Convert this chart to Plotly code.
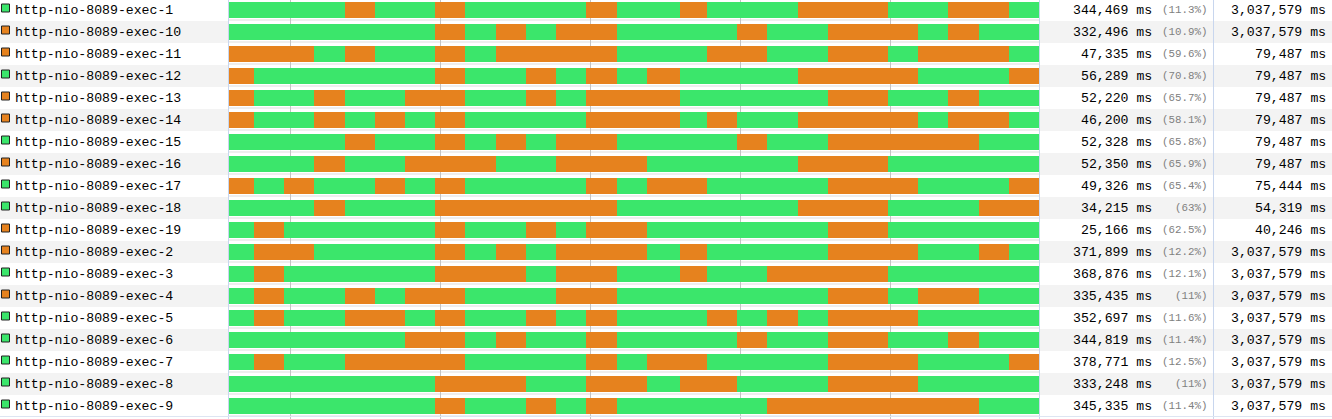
import plotly.graph_objects as go

# ---------------- data ----------------
threads = [
    "http-nio-8089-exec-1", "http-nio-8089-exec-10", "http-nio-8089-exec-11",
    "http-nio-8089-exec-12", "http-nio-8089-exec-13", "http-nio-8089-exec-14",
    "http-nio-8089-exec-15", "http-nio-8089-exec-16", "http-nio-8089-exec-17",
    "http-nio-8089-exec-18", "http-nio-8089-exec-19", "http-nio-8089-exec-2",
    "http-nio-8089-exec-3", "http-nio-8089-exec-4", "http-nio-8089-exec-5",
    "http-nio-8089-exec-6", "http-nio-8089-exec-7", "http-nio-8089-exec-8",
    "http-nio-8089-exec-9",
]
# sample boundaries (s) of the timeline
bounds = [0, 0.83, 1.83, 2.83, 3.87, 4.87, 5.87, 6.87, 7.87, 8.9, 9.9, 10.9,
          11.9, 12.93, 13.93, 15.03, 15.93, 16.93, 17.93, 18.97, 19.97, 20.97,
          21.97, 22.97, 23.97, 25.0, 26.0, 27.0]
# state per sample: G = running, O = waiting
states = [
    "GGGGOGGOGGGGOGGOGGGOOOGGOOG",
    "GGGGGGGOGOGOOGGGGOGGOOOGOGG",
    "OOOGOGGOGOOOOGGGOOGGOOGOOOG",
    "OGGGGGGOGGOGOGOGGGGOOOOGGGO",
    "OGGOGGOOGGOGOOOGGGGGOOGGOGG",
    "OGGOGOGOGGGGOOOGOGGOOOOGOOG",
    "GGGGOGGOGOGOOGGGGOGGOOOOOGG",
    "GGGOGGOOOGGOOOGGGGGOOOGGGGG",
    "OGOGGOGOGGGGOGOOGGGGOOOGGGO",
    "GGGOGGGOOOOOOGGGGGGOOOGGGOO",
    "GOGGGGGOGGOGOOGGGGGGOOGGGGG",
    "GOOGGGGOGOGOOOGOGGGGOOOGGOG",
    "GOGGGGGOOOGOOGGOGGOOOOGGGGG",
    "GOGGOGOOGGGOOGGGGGGGOOGOOGG",
    "GOGGOOGOGGOGOGGGOGOGOOOGGGG",
    "GGGGGGOOGOGGOGGGGOGGOOGGOGG",
    "GOGGOOOOGGGGOGOOGGGGOOOGGGO",
    "GGGGGGGOOOGGOOGOOGGGOOOGGGG",
    "GGGGGGGOGGOGOGGGGGOOOOOOOGG",
]
icon_states = "GOOGOOGOGGOOGOGGGGG"
run_ms = [344469, 332496, 47335, 56289, 52220, 46200, 52328, 52350, 49326,
          34215, 25166, 371899, 368876, 335435, 352697, 344819, 378771,
          333248, 345335]
run_pct = [11.3, 10.9, 59.6, 70.8, 65.7, 58.1, 65.8, 65.9, 65.4, 63, 62.5,
           12.2, 12.1, 11, 11.6, 11.4, 12.5, 11, 11.4]
total_ms = [3037579, 3037579, 79487, 79487, 79487, 79487, 79487, 79487, 75444,
            54319, 40246, 3037579, 3037579, 3037579, 3037579, 3037579,
            3037579, 3037579, 3037579]

# ---------------- style ----------------
W, H = 1332, 419
L, R = 229, 1039          # timeline pixel span
PITCH = 22                # row pitch px
FIRST = 10                # centre of first row px
GREEN = "#3be66b"
ORANGE = "#e6821e"
SEP = "#c8d6ee"
FONT = "Liberation Mono, DejaVu Sans Mono, monospace"
COL = {"G": GREEN, "O": ORANGE}

def px(p):
    return (p - L) / (R - L)

# build segments
segs = {"G": ([], [], []), "O": ([], [], [])}
for r, s in enumerate(states):
    i = 0
    while i < len(s):
        j = i
        while j + 1 < len(s) and s[j + 1] == s[i]:
            j += 1
        ys, bs, ds = segs[s[i]]
        ys.append(r)
        bs.append(bounds[i])
        ds.append(bounds[j + 1] - bounds[i])
        i = j + 1

fig = go.Figure()
for k in ("G", "O"):
    ys, bs, ds = segs[k]
    fig.add_trace(go.Bar(
        y=ys, base=bs, x=ds, orientation="h", width=16 / PITCH,
        marker=dict(color=COL[k], line=dict(width=0)),
        showlegend=False, hoverinfo="skip"))

n = len(threads)
shapes = []
annotations = []
for r in range(n):
    if r % 2 == 1:
        for x0, x1 in ((px(0), px(228)), (px(1040), px(W))):
            shapes.append(dict(type="rect", xref="paper", yref="y",
                               x0=x0, x1=x1, y0=r - 0.5, y1=r + 0.5,
                               fillcolor="#f3f3f3", line=dict(width=0),
                               layer="below"))
    # thin strip under each bar
    shapes.append(dict(type="rect", xref="x", yref="y",
                       x0=bounds[0], x1=bounds[-1],
                       y0=r + 9 / PITCH, y1=r + 11 / PITCH,
                       fillcolor="#eeeeee", line=dict(width=0), layer="below"))
    # icon
    shapes.append(dict(type="rect", xref="paper", yref="y", ysizemode="pixel",
                       yanchor=r, y0=-2, y1=6, x0=px(1.5), x1=px(9.5),
                       fillcolor=COL[icon_states[r]],
                       line=dict(color="#222222", width=1)))
    annotations.append(dict(xref="paper", yref="y", x=px(13), y=r,
                            xanchor="left", yanchor="middle", showarrow=False,
                            text=threads[r],
                            font=dict(family=FONT, size=13.2, color="#000000")))
    annotations.append(dict(xref="paper", yref="y", x=px(1154), y=r,
                            xanchor="right", yanchor="middle", showarrow=False,
                            text=f"{run_ms[r]:,} ms",
                            font=dict(family=FONT, size=13.2, color="#000000")))
    annotations.append(dict(xref="paper", yref="y", x=px(1209), y=r,
                            xanchor="right", yanchor="middle", showarrow=False,
                            text=f"({run_pct[r]:g}%)",
                            font=dict(family=FONT, size=10.8, color="#808080")))
    annotations.append(dict(xref="paper", yref="y", x=px(1328), y=r,
                            xanchor="right", yanchor="middle", showarrow=False,
                            text=f"{total_ms[r]:,} ms",
                            font=dict(family=FONT, size=13.2, color="#000000")))

# separators
for xp in (228.5, 1039.5, 1213.5):
    shapes.append(dict(type="line", xref="paper", yref="paper",
                       x0=px(xp), x1=px(xp), y0=0, y1=1,
                       line=dict(color=SEP, width=1)))
shapes.append(dict(type="line", xref="paper", yref="paper",
                   x0=px(0), x1=px(W), y0=2.5 / H, y1=2.5 / H,
                   line=dict(color="#dde5f2", width=1)))

top = -FIRST / PITCH
bottom = (H - FIRST) / PITCH
fig.update_layout(
    width=W, height=H,
    margin=dict(l=L, r=W - R, t=0, b=0, pad=0),
    paper_bgcolor="white", plot_bgcolor="white",
    barmode="overlay", bargap=0,
    shapes=shapes, annotations=annotations,
    xaxis=dict(range=[bounds[0], bounds[-1]], showticklabels=False,
               showgrid=True, gridcolor="#c4c4c4", gridwidth=1,
               tick0=(290 - L) / 30, dtick=5, tickmode="linear",
               zeroline=False, showline=False, ticks="", fixedrange=True),
    yaxis=dict(range=[bottom, top], showticklabels=False, showgrid=False,
               zeroline=False, showline=False, ticks="", fixedrange=True),
)

fig.write_html(
    "out.html",
    config={"displayModeBar": False},
    post_script="document.body.style.margin='0px';"
                "document.body.style.overflow='hidden';",
)
